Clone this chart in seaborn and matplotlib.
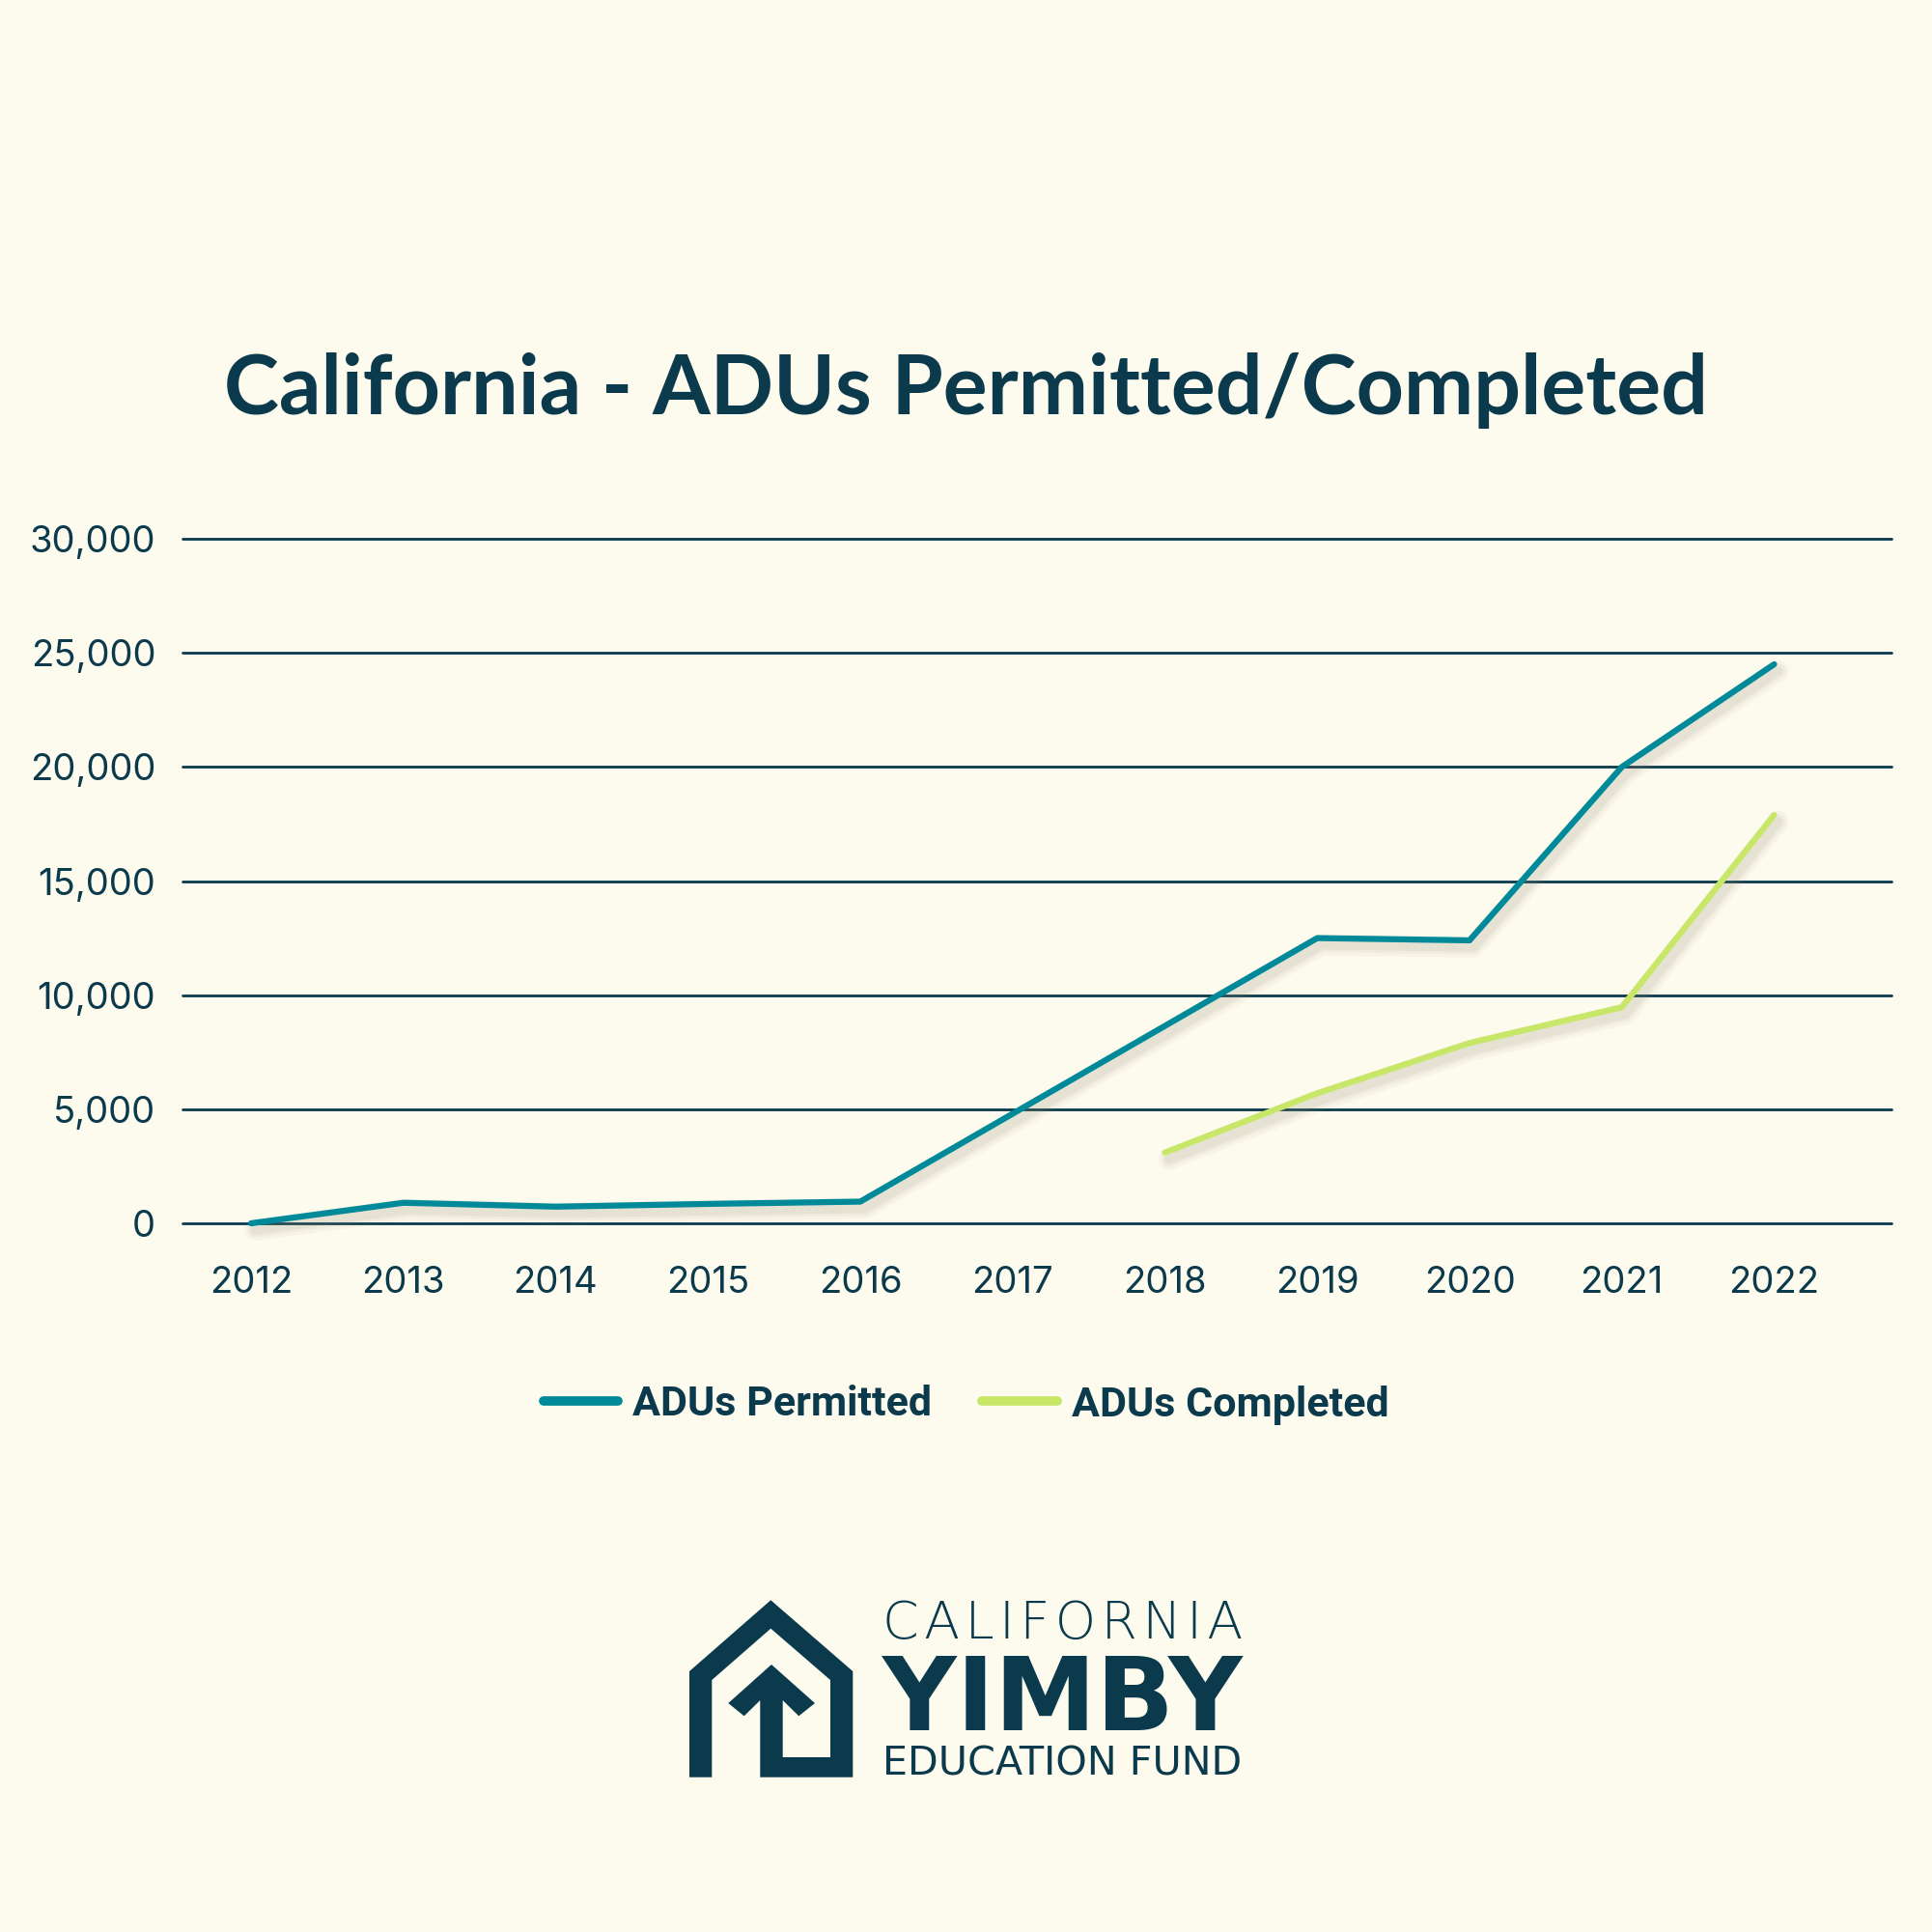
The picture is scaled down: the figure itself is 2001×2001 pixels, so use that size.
import numpy as np
import pandas as pd
import matplotlib
matplotlib.use("Agg")
import matplotlib.pyplot as plt
import matplotlib.patheffects as pe
from matplotlib.patches import Polygon
import seaborn as sns

# 数据
years = [2012, 2013, 2014, 2015, 2016, 2017, 2018, 2019, 2020, 2021, 2022]
permitted = [0, 900, 730, 850, 950, 4800, 8650, 12500, 12400, 20000, 24500]
completed_years = [2018, 2019, 2020, 2021, 2022]
completed = [3100, 5700, 7900, 9470, 17900]
y_ticks = [0, 5000, 10000, 15000, 20000, 25000, 30000]

title = "California - ADUs Permitted/Completed"
series_names = ["ADUs Permitted", "ADUs Completed"]

BG = "#fdfaee"
NAVY = "#0a3a4c"
TEAL = "#008a99"
LIME = "#c8e768"

sns.set_theme(style="white")
plt.rcParams['font.family'] = ['Inter', 'DejaVu Sans']
plt.rcParams['axes.unicode_minus'] = False

df = pd.concat([
    pd.DataFrame({'year': years, 'value': permitted, 'series': series_names[0]}),
    pd.DataFrame({'year': completed_years, 'value': completed, 'series': series_names[1]}),
])

W = 2001
fig = plt.figure(figsize=(20.01, 20.01), dpi=100, facecolor=BG)
renderer = fig.canvas.get_renderer()

# 主图区域 (像素 -> 比例)
left, right, top, bottom = 189, 1959, 558, 1267
ax = fig.add_axes([left / W, 1 - bottom / W, (right - left) / W, (bottom - top) / W])
ax.set_facecolor(BG)

# 柔和阴影
shadow = [pe.SimpleLineShadow(offset=(3, -5), shadow_color='#8f8a78', alpha=0.05, linewidth=16),
          pe.SimpleLineShadow(offset=(3, -5), shadow_color='#8f8a78', alpha=0.07, linewidth=11),
          pe.SimpleLineShadow(offset=(3, -5), shadow_color='#8f8a78', alpha=0.10, linewidth=7),
          pe.Normal()]

sns.lineplot(data=df, x='year', y='value', hue='series', palette=[TEAL, LIME],
             linewidth=4.5, ax=ax, legend=False, solid_capstyle='round')
for ln in ax.get_lines():
    ln.set_path_effects(shadow)
    ln.set_clip_on(False)
    ln.set_zorder(3)

ax.set_xlim(2011.55, 2022.77)
ax.set_ylim(0, 30000)
ax.set_xticks(years)
ax.set_yticks(y_ticks)
ax.set_yticklabels([f"{v:,}" for v in y_ticks])
ax.yaxis.grid(True, color=NAVY, linewidth=2.0)
ax.xaxis.grid(False)
for gl in ax.get_ygridlines():
    gl.set_clip_on(False)
for s in ax.spines.values():
    s.set_visible(False)
ax.tick_params(axis='both', length=0, labelsize=27.5, labelcolor=NAVY)
ax.tick_params(axis='x', pad=32)
ax.tick_params(axis='y', pad=20)
ax.set_xlabel('')
ax.set_ylabel('')

# 图例
handles = [plt.Line2D([], [], color=TEAL, linewidth=7, solid_capstyle='round'),
           plt.Line2D([], [], color=LIME, linewidth=7, solid_capstyle='round')]
leg = fig.legend(handles, series_names, loc='center', bbox_to_anchor=(0.5, 1 - 1455 / W),
                 ncol=2, frameon=False, handlelength=1.8, handletextpad=0.35,
                 columnspacing=1.2, prop={'family': ['Roboto', 'DejaVu Sans'], 'weight': 'bold', 'size': 31})
for t in leg.get_texts():
    t.set_color(NAVY)

# 覆盖层：标题和标志
ov = fig.add_axes([0, 0, 1, 1], facecolor='none')
ov.set_xlim(0, W)
ov.set_ylim(W, 0)
ov.axis('off')


def fit_text(x, y, s, width, ha='left', **kw):
    t = ov.text(x, y, s, fontsize=50, ha=ha, va='baseline', color=NAVY, **kw)
    w = t.get_window_extent(renderer).width
    t.set_fontsize(50 * width / w)
    return t


fit_text(1000, 429, title, 1540, ha='center', fontweight='bold',
         family=['Lato', 'DejaVu Sans'])

# 房屋图标
house = [(714, 1840.7), (714, 1731), (798.3, 1657.3), (883.3, 1731), (883.3, 1840.7),
         (787.3, 1840.7), (787.3, 1761), (770.7, 1777.3), (754.3, 1764), (799, 1724),
         (844, 1764), (827.3, 1777.3), (810.7, 1761), (810.7, 1820), (860, 1820),
         (860, 1740), (798.3, 1686.7), (737.3, 1740), (737.3, 1840.7)]
ov.add_patch(Polygon(house, closed=True, facecolor=NAVY, edgecolor='none'))

fit_text(914, 1696.7, "\u200a".join("CALIFORNIA"), 373, fontweight='light',
         family=['DejaVu Sans'])
fit_text(914, 1791.7, "YIMBY", 373, fontweight='bold', family=['DejaVu Sans'])
fit_text(914, 1838.3, "EDUCATION FUND", 373, fontweight='normal', family=['DejaVu Sans'])

fig.savefig('out.png', dpi=100, facecolor=BG)
